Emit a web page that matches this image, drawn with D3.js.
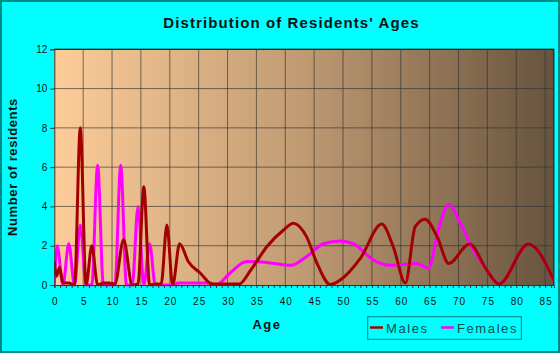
<!DOCTYPE html>
<html><head><meta charset="utf-8">
<script src="https://cdn.jsdelivr.net/npm/d3@7/dist/d3.min.js"></script>
<style>body{margin:0;background:#00ffff;}svg{display:block;}text{font-family:"Liberation Sans",Arial,sans-serif;}</style>
</head><body><svg id="c" width="560" height="353"></svg>
<script>
// Data (age, number of residents)
const maleAges   = [0,0.4,0.9,1.5,2.5,3.5,4.5,5.5,6.5,7.5,8.5,9.5,10.5,12,13.5,14.5,15.5,16.5,17.5,18.5,19.5,20.5,21.7,23.2,25.3,27.3,32,34,36.8,39.7,41.4,43.7,45.5,47.8,49.5,53,56.7,58.7,60.8,62.5,64.2,66.3,68.3,71.9,74.9,77,82.1,86.5];
const maleValues = [1.2,0.45,0.9,0.1,0.1,0,8,0,2,0,0.1,0.1,0.05,2.3,0,0.05,5,0,0.05,0.05,3.05,0,2.1,1.2,0.6,0.05,0.05,0.75,1.95,2.8,3.15,2.45,1.1,0.02,0.25,1.36,3.1,1.95,0.1,2.97,3.35,2.46,1.1,2.09,0.76,0.05,2.09,0.25];
const femaleAges   = [0,0.5,1.5,2.5,3.5,4.5,5.5,6.5,7.5,8.5,9.5,10.5,11.5,12.5,13.5,14.5,15.5,16.5,17.5,20.5,21.5,27,28,30.4,33.3,36.8,41,43.7,46.6,49.5,51.8,55.3,58.2,62.8,64.8,66.5,68.3,70.3,72,74.9,77,82.1,86.5];
const femaleValues = [0,2,0,2.1,0,3.05,0,0,6.1,0,0,0,6.1,0,0,4,0,2.1,0,0,0.1,0.1,0,0.6,1.2,1.15,1.0,1.45,2.1,2.24,2.1,1.27,1.0,1.1,0.85,2.8,4.1,3.14,2.1,0.76,0.05,2.09,0.25];
const xTicks = [0,5,10,15,20,25,30,35,40,45,50,55,60,65,70,75,80,85];
const yTicks = [0,2,4,6,8,10,12];
const seriesNames = ["Males","Females"];
const seriesColors = ["#a50000","#ff00ff"];

const svg = d3.select("#c");
const W = 560, H = 353;
const L = 54.3, R = 553.8, T = 49.3, B = 285;

svg.append("rect").attr("x",1).attr("y",1).attr("width",W-2).attr("height",H-2)
  .attr("fill","#00ffff").attr("stroke","#008b8b").attr("stroke-width",2);

const x = d3.scaleLinear().domain([0,86.5]).range([L,R]);
const y = d3.scaleLinear().domain([0,12]).range([B,T]);

const defs = svg.append("defs");
const g = defs.append("linearGradient").attr("id","bg").attr("x1","0").attr("x2","1").attr("y1","0").attr("y2","0");
g.append("stop").attr("offset","0").attr("stop-color","#fdcc99");
g.append("stop").attr("offset","0.5").attr("stop-color","#bf9a72");
g.append("stop").attr("offset","1").attr("stop-color","#67533e");
defs.append("clipPath").attr("id","clip").append("rect").attr("x",L).attr("y",T-5).attr("width",R-L).attr("height",B-T+6.5);

svg.append("rect").attr("x",L).attr("y",T).attr("width",R-L).attr("height",B-T).attr("fill","url(#bg)");

// grid
svg.append("g").selectAll("line").data(xTicks.filter(d=>d>0)).join("line")
  .attr("x1",d=>x(d)).attr("x2",d=>x(d)).attr("y1",T).attr("y2",B)
  .attr("stroke","#333").attr("stroke-opacity",0.65).attr("stroke-width",1);
svg.append("g").selectAll("line").data(yTicks.filter(d=>d>0)).join("line")
  .attr("x1",L).attr("x2",R).attr("y1",d=>y(d)).attr("y2",d=>y(d))
  .attr("stroke","#333").attr("stroke-opacity",0.65).attr("stroke-width",1);

// plot frame top/right
svg.append("path").attr("d",`M${L},${T}H${R}V${B}`).attr("fill","none").attr("stroke","#222").attr("stroke-width",1.2);

// lines
const line = d3.line().curve(d3.curveMonotoneX).x(d=>x(d[0])).y(d=>y(d[1]));
const fem = femaleAges.map((a,i)=>[a,femaleValues[i]]);
const mal = maleAges.map((a,i)=>[a,maleValues[i]]);
const lg = svg.append("g").attr("clip-path","url(#clip)");
lg.append("path").datum(fem).attr("d",line).attr("fill","none").attr("stroke",seriesColors[1]).attr("stroke-width",3).attr("stroke-linejoin","round");
lg.append("path").datum(mal).attr("d",line).attr("fill","none").attr("stroke",seriesColors[0]).attr("stroke-width",3).attr("stroke-linejoin","round");

// axes
const xAxis = d3.axisBottom(x).tickValues(d3.range(0,87,1)).tickSize(3).tickFormat(d=>xTicks.includes(d)?d:"");
const xa = svg.append("g").attr("transform",`translate(0,${B})`).call(xAxis);
xa.select(".domain").attr("stroke","#333");
xa.selectAll(".tick line").attr("stroke","#333");
xa.selectAll(".tick text").attr("font-size",10).attr("letter-spacing","1px").attr("fill","#111").attr("dy","1.4em").attr("dx","0.5px");

const yAxis = d3.axisLeft(y).tickValues(yTicks).tickSize(4).tickPadding(3);
const ya = svg.append("g").attr("transform",`translate(${L},0)`).call(yAxis);
ya.select(".domain").attr("stroke","#333");
ya.selectAll(".tick line").attr("stroke","#333");
ya.selectAll(".tick text").attr("font-size",10).attr("fill","#111");

// titles
svg.append("text").attr("x",291.5).attr("y",28).attr("text-anchor","middle")
  .attr("font-size",15).attr("font-weight","bold").attr("letter-spacing","1.1px").attr("fill","#111")
  .text("Distribution of Residents' Ages");
svg.append("text").attr("x",267).attr("y",329).attr("text-anchor","middle")
  .attr("font-size",13).attr("font-weight","bold").attr("letter-spacing","1.5px").attr("fill","#111").text("Age");
svg.append("text").attr("transform","translate(17,167) rotate(-90)").attr("text-anchor","middle")
  .attr("font-size",13).attr("font-weight","bold").attr("letter-spacing","0.6px").attr("fill","#111").text("Number of residents");

// legend
const leg = svg.append("g");
leg.append("rect").attr("x",367.7).attr("y",316.7).attr("width",153.6).attr("height",22.6)
  .attr("fill","none").attr("stroke","#008080").attr("stroke-width",1);
const lx = [370,441];
seriesNames.forEach((n,i)=>{
  leg.append("line").attr("x1",lx[i]).attr("x2",lx[i]+13).attr("y1",327.5).attr("y2",327.5)
    .attr("stroke",seriesColors[i]).attr("stroke-width",2.5);
  leg.append("text").attr("x",lx[i]+16).attr("y",332.5).attr("font-size",13).attr("letter-spacing","1.6px")
    .attr("fill","#134a4a").text(n);
});
</script></body></html>
